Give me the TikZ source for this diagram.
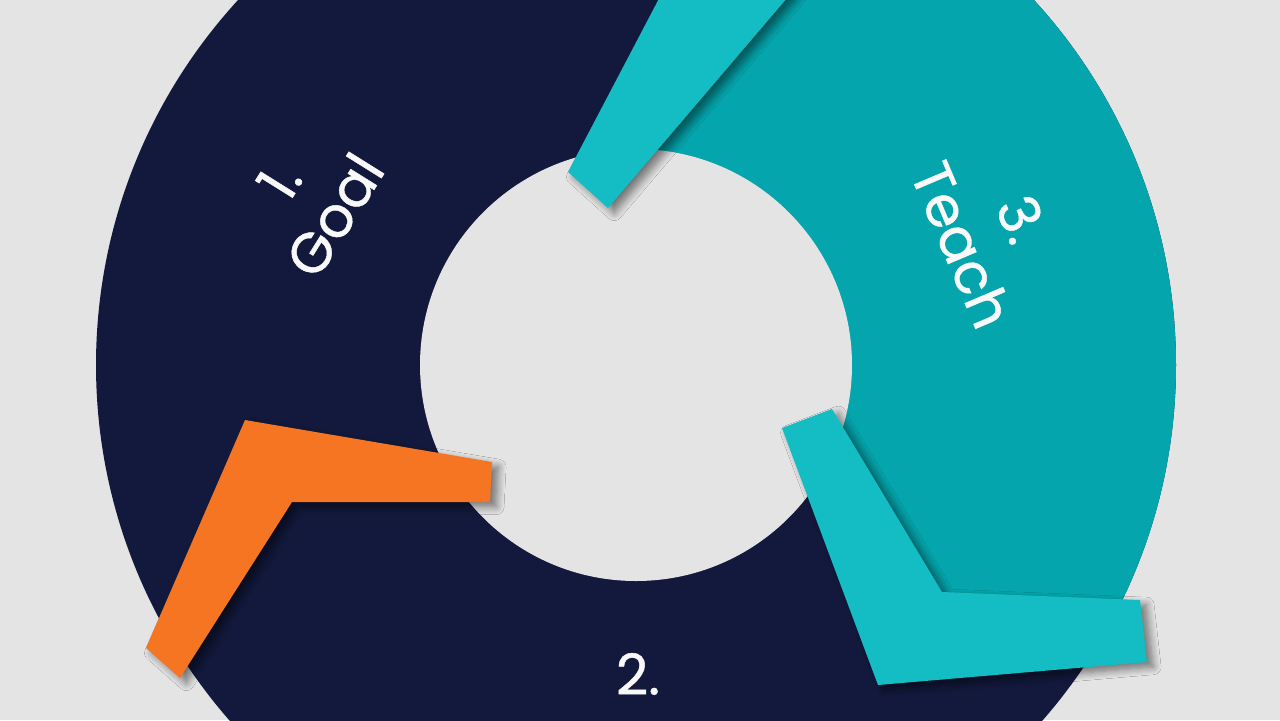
\documentclass[tikz,border=0pt]{standalone}
\usepackage{fontspec}
\setmainfont{Poppins}
\newfontfamily\labfont{Poppins}[FakeBold=0.8]
\usetikzlibrary{calc,shadows.blur}

\definecolor{bggray}{RGB}{228,228,228}
\definecolor{ringnavy}{RGB}{18,25,60}
\definecolor{ringteal}{RGB}{4,165,172}
\definecolor{chevteal}{RGB}{20,189,195}
\definecolor{chevorange}{RGB}{246,117,34}

\begin{document}
\begin{tikzpicture}[x=0.1mm,y=-0.1mm,
lab/.style={text=white!95!gray,font=\labfont\fontsize{16}{18.5}\selectfont,align=center,inner sep=0pt},
chev/.style={fill=#1,blur shadow={shadow xshift=1.8pt,shadow yshift=-1.4pt,shadow blur radius=2.2pt,shadow blur steps=8,shadow opacity=50}}]
	\useasboundingbox (0,0) rectangle (1280,720);
	\fill[bggray] (0,0) rectangle (1280,720);
	\coordinate (c) at (636,365);
	%ring
	\fill[ringnavy] (c) circle (54mm);
	\begin{scope}
		\clip (c) circle (54mm);
		\fill[ringteal] (600,195) -- (725,-30) -- (1300,-30) -- (1300,616) -- (920,620) -- (800,415) -- cycle;
	\end{scope}
	\fill[bggray] (c) circle (21.6mm);
	%chevrons
	\fill[chev=chevteal] (568,172) -- (608,208) -- (811,-30) -- (674,-30) -- cycle;
	\fill[chev=chevteal] (782,428) -- (832,409) -- (942,592) -- (1140,600) -- (1147,662) -- (878,685) -- cycle;
	\fill[chev=chevorange] (245,420) -- (492,462) -- (490,502) -- (292,502) -- (180,678) -- (146,648) -- cycle;
	%labels
	\node[lab,rotate=58] (goal) at (307,198) {1.\\Goal};
	\node[lab,rotate=-67] (teach) at (992,232) {3.\\Teach};
	\node[lab] (two) at (638,674) {2.};
\end{tikzpicture}
\end{document}
